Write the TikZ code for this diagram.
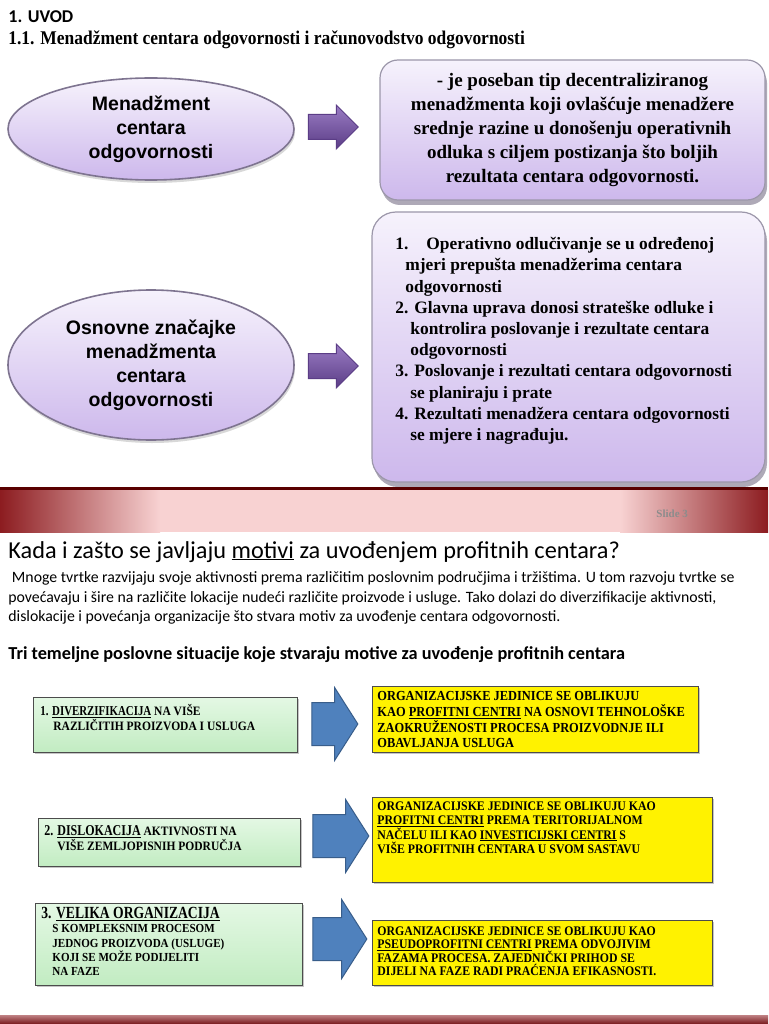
\documentclass[tikz,border=0pt]{standalone}
\usepackage{fontspec}
\setmainfont{Liberation Serif}
\newfontfamily\slidefont{Carlito}
\newfontfamily\ovalfont{Liberation Sans}
\newfontfamily\headfont[FakeStretch=0.9]{Liberation Serif}
\newfontfamily\capsfont[FakeStretch=0.9]{Liberation Serif}
\newfontfamily\tallcaps[FakeStretch=0.8]{Liberation Serif}
\usetikzlibrary{shapes.geometric,shapes.arrows,shadows,positioning}
\definecolor{lavtop}{HTML}{F6F2FC}
\definecolor{lavbot}{HTML}{CDB8EC}
\definecolor{ovalrim}{HTML}{7E7490}
\definecolor{boxrim}{HTML}{9C97AA}
\definecolor{boxshadow}{HTML}{5E5470}
\definecolor{arrowtop}{HTML}{9A7CC4}
\definecolor{arrowbot}{HTML}{5B3D86}
\definecolor{arrowblue}{HTML}{4F81BD}
\definecolor{arrowblueedge}{HTML}{385D8A}
\definecolor{bandred}{HTML}{8C1C20}
\definecolor{bandpink}{HTML}{F8D2D2}
\definecolor{mintop}{HTML}{E4F8E4}
\definecolor{minbot}{HTML}{C2ECC2}
\newcommand{\fsz}[2]{\fontsize{#1}{#2}\selectfont}
\tikzset{every picture/.style={line width=.8pt}}

\begin{document}
\begin{tikzpicture}[x=1pt,y=-1pt,
 every node/.style={inner sep=0pt},
 ovalbox/.style={ellipse,draw=ovalrim,line width=1.6pt,
  top color=lavtop,bottom color=lavbot,align=center,
  font=\ovalfont\bfseries\fsz{19.5}{24},
  drop shadow={shadow xshift=1pt,shadow yshift=-3pt,fill=black!30}},
 notebox/.style={rectangle,draw=boxrim,line width=1.2pt,
  top color=lavtop,bottom color=lavbot,
  drop shadow={shadow xshift=2pt,shadow yshift=-5pt,fill=boxshadow}},
 purplearrow/.style={single arrow,single arrow head extend=9.5pt,
  inner xsep=0pt,inner ysep=12pt,minimum height=50pt,draw=arrowbot,
  top color=arrowtop,bottom color=arrowbot,line width=1pt},
 bluearrow/.style={single arrow,single arrow tip angle=115,
  single arrow head extend=15pt,inner xsep=0pt,inner ysep=21pt,
  fill=arrowblue,draw=arrowblueedge,line width=1pt},
 greenbox/.style={rectangle,draw=black!70,line width=1pt,
  top color=mintop,bottom color=minbot,
  drop shadow={shadow xshift=1.5pt,shadow yshift=-1.5pt,fill=black!45}},
 yellowbox/.style={rectangle,draw=black!70,line width=1pt,fill=yellow,
  drop shadow={shadow xshift=1.5pt,shadow yshift=-1.5pt,fill=black!45}},
 capstext/.style={anchor=north west,align=left,
  font=\capsfont\bfseries\fsz{13.1}{14.5}}]
 \fill[white] (0,0) rectangle (768,1024);
 \useasboundingbox (0,0) rectangle (768,1024);

 % first slide: headings
 \node[anchor=base west,font=\slidefont\bfseries\fsz{18}{22}] (uvod) at (8,23) {1. UVOD};
 \node[anchor=base west,font=\headfont\bfseries\fsz{19.4}{22}] (subhead) at (8,45)
  {1.1. Menadžment centara odgovornosti i računovodstvo odgovornosti};

 % what the management is
 \node[ovalbox,minimum width=286pt,minimum height=102pt] (menoval) at (151,129)
  {Menadžment\\centara\\odgovornosti};
 \node[purplearrow] (menarrow) at (327,127) {};
 \node[notebox,rounded corners=18pt,minimum width=385pt,minimum height=140pt,
  align=center,font=\bfseries\fsz{19}{23.8}] (defbox) at (572.5,130)
  {- je poseban tip decentraliziranog\\
   menadžmenta koji ovlašćuje menadžere\\
   srednje razine u donošenju operativnih\\
   odluka s ciljem postizanja što boljih\\
   rezultata centara odgovornosti.};

 % its basic features
 \node[ovalbox,minimum width=286pt,minimum height=150pt] (featoval) at (151,365)
  {Osnovne značajke\\menadžmenta\\centara\\odgovornosti};
 \node[purplearrow] (featarrow) at (327,366) {};
 \node[notebox,rounded corners=24pt,minimum width=393pt,minimum height=270pt]
  (featbox) at (568.5,347) {};
 \node[anchor=north west,align=left,font=\bfseries\fsz{17.4}{21.2}] (featlist) at (395,237)
  {1.\hspace{18pt}Operativno odlučivanje se u određenoj\\
   \hspace*{10pt}mjeri prepušta menadžerima centara\\
   \hspace*{10pt}odgovornosti\\
   2. Glavna uprava donosi strateške odluke i\\
   \hspace*{15pt}kontrolira poslovanje i rezultate centara\\
   \hspace*{15pt}odgovornosti\\
   3. Poslovanje i rezultati centara odgovornosti\\
   \hspace*{15pt}se planiraju i prate\\
   4. Rezultati menadžera centara odgovornosti\\
   \hspace*{15pt}se mjere i nagrađuju.};

 % footer band of the first slide
 \fill[black!65!red] (0,487) rectangle (768,490);
 \shade[left color=bandred,right color=bandpink] (0,490) rectangle (160,532);
 \fill[bandpink] (160,490) rectangle (620,532);
 \shade[left color=bandpink,right color=bandred] (620,490) rectangle (768,532);
 \node[anchor=base west,font=\bfseries\fsz{11}{13},text=black!45] (slideno) at (656,517) {Slide 3};

 % second slide: heading and intro
 \node[anchor=base west,font=\slidefont\fsz{24.3}{28}] (motivhead) at (8,558)
  {Kada i zašto se javljaju \underline{motivi} za uvođenjem profitnih centara?};
 \node[anchor=north west,align=left,font=\slidefont\fsz{15.8}{19.8}] (intro) at (8,571)
  {\ Mnoge tvrtke razvijaju svoje aktivnosti prema različitim poslovnim područjima i tržištima. U tom razvoju tvrtke se\\
   povećavaju i šire na različite lokacije nudeći različite proizvode i usluge. Tako dolazi do diverzifikacije aktivnosti,\\
   dislokacije i povećanja organizacije što stvara motiv za uvođenje centara odgovornosti.};
 \node[anchor=base west,font=\slidefont\bfseries\fsz{18.3}{21}] (trihead) at (8,659)
  {Tri temeljne poslovne situacije koje stvaraju motive za uvođenje profitnih centara};

 % diversification
 \node[greenbox,minimum width=264pt,minimum height=55pt] (divbox) at (165,724.5) {};
 \node[capstext,font=\capsfont\bfseries\fsz{12.8}{15}] (divtext) at (40,704)
  {{\tallcaps\fsz{13.6}{15}1. \underline{DIVERZIFIKACIJA}} NA VIŠE\\
   \hspace*{13pt}RAZLIČITIH PROIZVODA I USLUGA};
 \node[bluearrow,minimum height=46pt] (divarrow) at (328,724) {};
 \node[yellowbox,minimum width=326pt,minimum height=66pt] (divres) at (535,719) {};
 \node[capstext,font=\capsfont\bfseries\fsz{13.8}{15.8}] (divrestext) at (377,691)
  {ORGANIZACIJSKE JEDINICE SE OBLIKUJU\\
   KAO \underline{PROFITNI CENTRI} NA OSNOVI TEHNOLOŠKE\\
   ZAOKRUŽENOSTI PROCESA PROIZVODNJE ILI\\
   OBAVLJANJA USLUGA};

 % dislocation
 \node[greenbox,minimum width=262pt,minimum height=48pt] (disbox) at (169,842) {};
 \node[capstext,font=\capsfont\bfseries\fsz{12.8}{15}] (distext) at (44,825)
  {{\tallcaps\fsz{15}{15}2. \underline{DISLOKACIJA}} AKTIVNOSTI NA\\
   \hspace*{13pt}VIŠE ZEMLJOPISNIH PODRUČJA};
 \node[bluearrow,minimum height=56pt] (disarrow) at (334,836) {};
 \node[yellowbox,minimum width=340pt,minimum height=85pt] (disres) at (542,839.5) {};
 \node[capstext] (disrestext) at (377,801)
  {ORGANIZACIJSKE JEDINICE SE OBLIKUJU KAO\\
   \underline{PROFITNI CENTRI} PREMA TERITORIJALNOM\\
   NAČELU ILI KAO \underline{INVESTICIJSKI CENTRI} S\\
   VIŠE PROFITNIH CENTARA U SVOM SASTAVU};

 % large organisation
 \node[greenbox,minimum width=267pt,minimum height=82pt] (orgbox) at (168.5,944) {};
 \node[capstext,font=\capsfont\bfseries\fsz{12.3}{14.3}] (orgtext) at (41,907)
  {{\tallcaps\fsz{17}{16}3. \underline{VELIKA ORGANIZACIJA}}\\
   \hspace*{11pt}S KOMPLEKSNIM PROCESOM\\
   \hspace*{11pt}JEDNOG PROIZVODA (USLUGE)\\
   \hspace*{11pt}KOJI SE MOŽE PODIJELITI\\
   \hspace*{11pt}NA FAZE};
 \node[bluearrow,single arrow head extend=18pt,minimum height=54pt] (orgarrow) at (333,939) {};
 \node[yellowbox,minimum width=340pt,minimum height=65pt] (orgres) at (542,952.5) {};
 \node[capstext,font=\capsfont\bfseries\fsz{13.1}{13.6}] (orgrestext) at (377,926)
  {ORGANIZACIJSKE JEDINICE SE OBLIKUJU KAO\\
   \underline{PSEUDOPROFITNI CENTRI} PREMA ODVOJIVIM\\
   FAZAMA PROCESA. ZAJEDNIČKI PRIHOD SE\\
   DIJELI NA FAZE RADI PRAĆENJA EFIKASNOSTI.};

 % footer band of the second slide
 \shade[top color=bandred!55,bottom color=bandred!85!black] (0,1015) rectangle (768,1024);
\end{tikzpicture}
\end{document}
